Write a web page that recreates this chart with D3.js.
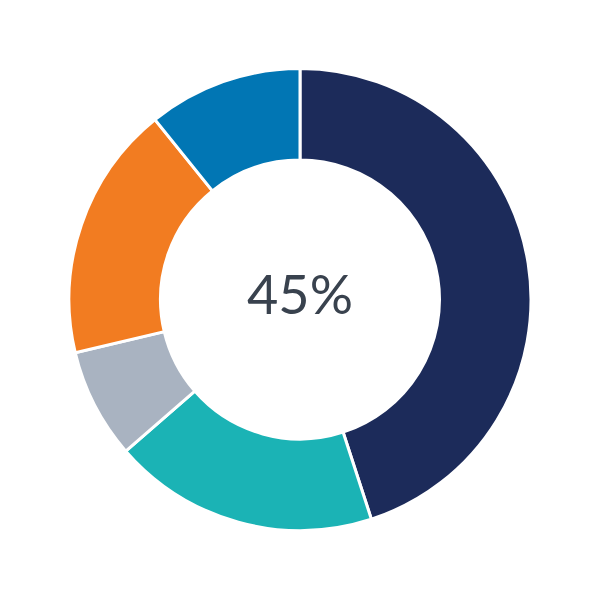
<!DOCTYPE html>
<html>
<head>
<meta charset="utf-8">
<script src="https://cdn.jsdelivr.net/npm/d3@7"></script>
<style>
  html, body { margin: 0; padding: 0; background: #fff; }
</style>
</head>
<body>
<div id="chart"></div>
<script>
// slice data, clockwise from 12 o'clock
var labels = ["A", "B", "C", "D", "E"];
var values = [45, 18.6, 7.7, 17.9, 10.8];
var colors = ["#1c2b5a", "#1bb3b5", "#a9b3c1", "#f27c21", "#0176b4"];
var centerLabel = "45%";

var width = 600, height = 599;
var cx = 300, cy = 299.5;
var outer = 231, inner = 139.5;

var svg = d3.select("#chart").append("svg")
  .attr("width", width)
  .attr("height", height);

var g = svg.append("g").attr("transform", "translate(" + cx + "," + cy + ")");

var pie = d3.pie().sort(null).value(function(d) { return d; });
var arc = d3.arc().innerRadius(inner).outerRadius(outer);

g.selectAll("path")
  .data(pie(values))
  .enter()
  .append("path")
  .attr("d", arc)
  .attr("fill", function(d, i) { return colors[i]; })
  .attr("stroke", "#fff")
  .attr("stroke-width", 3);

g.append("text")
  .text(centerLabel)
  .attr("text-anchor", "middle")
  .attr("y", 14)
  .attr("font-family", "Lato, sans-serif")
  .attr("font-size", "54px")
  .attr("fill", "#39424e");
</script>
</body>
</html>
